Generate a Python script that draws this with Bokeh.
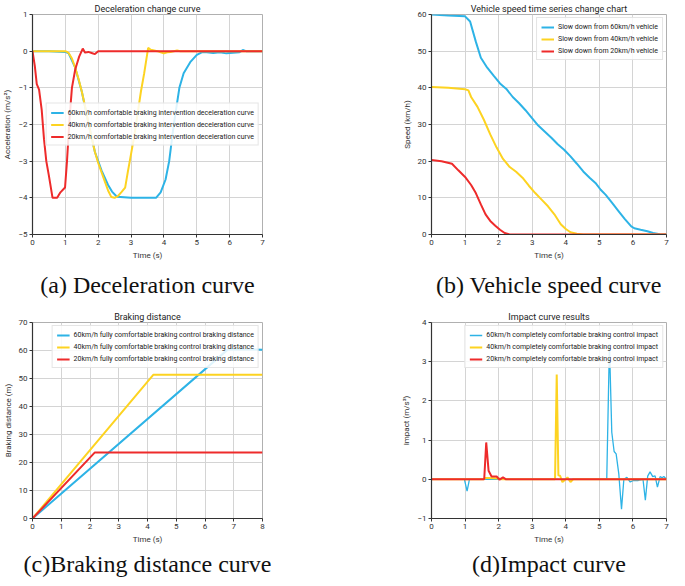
from bokeh.plotting import figure
from bokeh.models import Range1d, FixedTicker, Title
from bokeh.layouts import column, row
from bokeh.embed import file_html
from bokeh.resources import INLINE

BLUE = "#2db3e6"
YELLOW = "#fdd321"
RED = "#ee2b2b"

# ---------- (a) Deceleration ----------
a_t60 = [0, 0.5, 1.0, 1.1, 1.3, 1.5, 1.7, 1.9, 2.1, 2.3, 2.42, 2.57, 3.0, 3.5, 3.76, 3.9, 4.05, 4.16, 4.3, 4.47, 4.6, 4.8, 5.0, 5.15, 5.3, 5.5, 5.7, 5.9, 6.1, 6.3, 6.4, 6.5, 7.0]
a_v60 = [0, 0, -0.02, -0.06, -0.45, -1.1, -1.95, -2.75, -3.25, -3.65, -3.83, -3.97, -4.0, -4.0, -4.0, -3.85, -3.5, -3.0, -2.0, -1.0, -0.6, -0.3, -0.1, -0.03, -0.03, -0.05, -0.03, -0.06, -0.04, -0.03, 0.03, 0, 0]
a_t40 = [0, 1.0, 1.05, 1.1, 1.2, 1.3, 1.4, 1.5, 1.6, 1.7, 1.8, 1.9, 2.0, 2.1, 2.2, 2.3, 2.4, 2.5, 2.6, 2.7, 2.82, 2.9, 3.0, 3.1, 3.2, 3.3, 3.4, 3.52, 3.6, 3.7, 3.8, 3.9, 4.0, 4.1, 4.2, 4.4, 4.5, 7.0]
a_v40 = [0, 0, -0.02, -0.05, -0.2, -0.45, -0.75, -1.1, -1.5, -1.95, -2.35, -2.75, -3.05, -3.3, -3.55, -3.8, -3.98, -4.0, -3.95, -3.85, -3.72, -3.3, -2.8, -2.3, -1.7, -1.1, -0.6, 0.09, 0.04, 0.02, 0.0, -0.03, -0.06, -0.03, -0.02, 0.02, 0, 0]
a_t20 = [0, 0.07, 0.13, 0.2, 0.28, 0.35, 0.42, 0.5, 0.61, 0.75, 0.85, 0.99, 1.05, 1.13, 1.2, 1.3, 1.42, 1.53, 1.6, 1.7, 1.8, 1.9, 2.0, 7.0]
a_v20 = [0, -0.4, -0.9, -1.05, -1.6, -2.4, -3.0, -3.4, -4.0, -4.0, -3.85, -3.72, -3.0, -1.8, -1.0, -0.5, -0.15, 0.07, -0.04, -0.02, -0.05, -0.08, 0.0, 0.0]
a_yticks = [-5, -4, -3, -2, -1, 0, 1]
a_ylabels = ["\u22125", "\u22124", "\u22123", "\u22122", "\u22121", "0", "1"]
a_xticks = [0, 1, 2, 3, 4, 5, 6, 7]

# ---------- (b) Speed ----------
b_t60 = [0, 0.5, 1.0, 1.15, 1.32, 1.47, 1.66, 1.85, 2.04, 2.23, 2.42, 2.61, 2.8, 3.0, 3.18, 3.37, 3.57, 3.76, 3.95, 4.14, 4.33, 4.52, 4.71, 4.9, 5.04, 5.19, 5.38, 5.57, 5.76, 5.95, 6.04, 6.23, 6.43, 6.6, 6.8, 7.0]
b_v60 = [60, 59.7, 59.5, 58.1, 52.6, 48.2, 45.5, 43.3, 41.2, 39.7, 37.5, 35.8, 33.9, 31.7, 29.7, 28.1, 26.4, 24.6, 23.1, 21.3, 19.3, 17.2, 15.5, 13.9, 12.2, 10.8, 8.6, 6.4, 4.2, 2.2, 1.7, 1.3, 0.9, 0.4, 0.1, 0]
b_t40 = [0, 0.5, 1.0, 1.1, 1.18, 1.37, 1.56, 1.75, 1.94, 2.13, 2.33, 2.52, 2.71, 2.9, 3.09, 3.28, 3.47, 3.66, 3.85, 4.0, 4.14, 4.33, 4.52, 7.0]
b_v40 = [40.2, 40.0, 39.6, 39.3, 37.5, 34.8, 31.3, 27.3, 23.7, 20.6, 18.4, 17.1, 15.5, 13.3, 11.3, 9.5, 7.7, 5.5, 2.8, 1.5, 0.6, 0.2, 0, 0]
b_t20 = [0, 0.3, 0.61, 0.8, 1.0, 1.18, 1.32, 1.47, 1.61, 1.75, 1.9, 2.04, 2.18, 2.33, 7.0]
b_v20 = [20.3, 20.0, 19.3, 17.5, 15.7, 13.5, 11.3, 8.2, 5.5, 3.7, 2.4, 1.3, 0.4, 0, 0]
b_yticks = [0, 10, 20, 30, 40, 50, 60]
b_xticks = [0, 1, 2, 3, 4, 5, 6, 7]

# ---------- (c) Braking distance ----------
c_t60 = [0, 6.8, 8]
c_d60 = [0, 60.4, 60.3]
c_t40 = [0, 4.2, 8]
c_d40 = [0, 51.3, 51.3]
c_t20 = [0, 2.17, 8]
c_d20 = [0, 23.6, 23.6]
c_yticks = [0, 10, 20, 30, 40, 50, 60, 70]
c_xticks = [0, 1, 2, 3, 4, 5, 6, 7, 8]

# ---------- (d) Impact ----------
d_t60 = [0, 0.98, 1.06, 1.13, 5.22, 5.3, 5.37, 5.44, 5.5, 5.58, 5.66, 5.73, 5.82, 5.92, 6.01, 6.16, 6.3, 6.37, 6.44, 6.51, 6.59, 6.66, 6.73, 6.81, 6.87, 6.92, 7.0]
d_j60 = [0, 0, -0.3, 0, 0, 3.45, 1.2, 0.71, 0.65, 0.13, -0.76, 0.0, 0.05, -0.07, -0.03, -0.03, 0.0, -0.53, 0.08, 0.19, 0.07, 0.09, -0.2, 0.07, 0.04, 0.07, 0.0]
d_t40 = [0, 1.55, 1.6, 1.7, 2.0, 2.1, 3.68, 3.73, 3.78, 3.83, 3.9, 4.0, 4.05, 4.14, 4.22, 7.0]
d_j40 = [0, 0, 0.03, 0.03, 0.02, 0, 0, 2.67, 0.1, 0.09, -0.07, 0.0, 0.05, -0.07, 0.0, 0]
d_t20 = [0, 1.57, 1.63, 1.7, 1.79, 1.94, 2.03, 2.13, 2.22, 7.0]
d_j20 = [0, 0, 0.94, 0.22, 0.07, 0.07, -0.01, 0.05, 0, 0]
d_yticks = [-1, 0, 1, 2, 3, 4]
d_ylabels = ["\u22121", "0", "1", "2", "3", "4"]
d_xticks = [0, 1, 2, 3, 4, 5, 6, 7]

FONT = "Roboto"


def make_fig(title, caption, w, h, xr, yr, xticks, yticks, ylabels, xlabel, ylabel,
             mbl, mbr, mbt, mbb, cap_standoff):
    p = figure(width=w, height=h, x_range=Range1d(*xr), y_range=Range1d(*yr),
               output_backend="svg", toolbar_location=None,
               min_border_left=mbl, min_border_right=mbr,
               min_border_top=mbt, min_border_bottom=mbb)
    p.title.text = title
    p.title.align = "center"
    p.title.text_font = FONT
    p.title.text_font_size = "9px"
    p.title.text_font_style = "normal"
    p.title.text_color = "#222222"
    p.title.standoff = 2
    p.outline_line_color = "#b0b0b0"
    p.outline_line_width = 1
    p.background_fill_color = "white"
    p.border_fill_color = "white"
    for ax in (p.xaxis[0], p.yaxis[0]):
        ax.axis_line_color = "#333333"
        ax.axis_line_width = 1.2
        ax.major_tick_line_color = "#333333"
        ax.major_tick_out = 3
        ax.major_tick_in = 0
        ax.minor_tick_out = 0
        ax.minor_tick_in = 0
        ax.major_label_text_font = FONT
        ax.major_label_text_font_size = "8px"
        ax.major_label_text_color = "#333333"
        ax.major_label_standoff = 2
        ax.axis_label_text_font = FONT
        ax.axis_label_text_font_size = "8px"
        ax.axis_label_text_font_style = "normal"
        ax.axis_label_text_color = "#333333"
        ax.axis_label_standoff = 3
    p.xaxis[0].ticker = FixedTicker(ticks=xticks)
    p.yaxis[0].ticker = FixedTicker(ticks=yticks)
    if ylabels is not None:
        p.yaxis[0].major_label_overrides = {t: s for t, s in zip(yticks, ylabels)}
    p.xaxis[0].axis_label = xlabel
    p.yaxis[0].axis_label = ylabel
    p.grid.grid_line_color = "#d4d4d4"
    p.grid.grid_line_width = 1
    cap = Title(text=caption, align="center", text_font="Liberation Serif",
                text_font_size="24px", text_font_style="normal", text_color="#111111",
                standoff=cap_standoff, offset=-10)
    p.add_layout(cap, "below")
    return p


def style_legend(p, loc):
    lg = p.legend[0]
    lg.location = loc
    lg.label_text_font = FONT
    lg.label_text_font_size = "7px"
    lg.label_text_color = "#222222"
    lg.glyph_width = 13
    lg.glyph_height = 8
    lg.label_height = 9
    lg.label_standoff = 4
    lg.spacing = 3
    lg.padding = 4
    lg.margin = 3
    lg.border_line_color = "#cccccc"
    lg.border_line_width = 1
    lg.background_fill_alpha = 0.85


LW, RW = 341, 328
TH, BH = 304, 274

# (a)
pa = make_fig("Deceleration change curve", "(a) Deceleration curve", LW, TH,
              (0, 7), (-5, 1), a_xticks, a_yticks, a_ylabels,
              "Time (s)", "Acceleration (m/s\u00b2)", 24, 79, 12, 66, 14)
pa.line(a_t60, a_v60, color=BLUE, line_width=2,
        legend_label="60km/h comfortable braking intervention deceleration curve")
pa.line(a_t40, a_v40, color=YELLOW, line_width=2,
        legend_label="40km/h comfortable braking intervention deceleration curve")
pa.line(a_t20, a_v20, color=RED, line_width=2,
        legend_label="20km/h comfortable braking intervention deceleration curve")
style_legend(pa, "right")

# (b)
pb = make_fig("Vehicle speed time series change chart", "(b) Vehicle speed curve", RW, TH,
              (0, 7), (0, 60), b_xticks, b_yticks, None,
              "Time (s)", "Speed (km/h)", 90, 3, 12, 66, 14)
pb.line(b_t60, b_v60, color=BLUE, line_width=2, legend_label="Slow down from 60km/h vehicle")
pb.line(b_t40, b_v40, color=YELLOW, line_width=2, legend_label="Slow down from 40km/h vehicle")
pb.line(b_t20, b_v20, color=RED, line_width=2, legend_label="Slow down from 20km/h vehicle")
style_legend(pb, "top_right")

# (c)
pc = make_fig("Braking distance", "(c)Braking distance curve", LW, BH,
              (0, 8), (0, 70), c_xticks, c_yticks, None,
              "Time (s)", "Braking distance (m)", 24, 79, 18, 56, 4)
pc.line(c_t60, c_d60, color=BLUE, line_width=2,
        legend_label="60km/h fully comfortable braking control braking distance")
pc.line(c_t40, c_d40, color=YELLOW, line_width=2,
        legend_label="40km/h fully comfortable braking control braking distance")
pc.line(c_t20, c_d20, color=RED, line_width=2,
        legend_label="20km/h fully comfortable braking control braking distance")
style_legend(pc, "top_right")

# (d)
pd_ = make_fig("Impact curve results", "(d)Impact curve", RW, BH,
               (0, 7), (-1, 4), d_xticks, d_yticks, d_ylabels,
               "Time (s)", "Impact (m/s\u00b3)", 90, 3, 18, 56, 4)
pd_.line(d_t60, d_j60, color=BLUE, line_width=1.3,
         legend_label="60km/h completely comfortable braking control impact")
pd_.line(d_t40, d_j40, color=YELLOW, line_width=2,
         legend_label="40km/h completely comfortable braking control impact")
pd_.line(d_t20, d_j20, color=RED, line_width=2,
         legend_label="20km/h completely comfortable braking control impact")
style_legend(pd_, "top_right")

layout = column(row(pa, pb), row(pc, pd_))
open("out.html", "w").write(file_html(layout, INLINE))
